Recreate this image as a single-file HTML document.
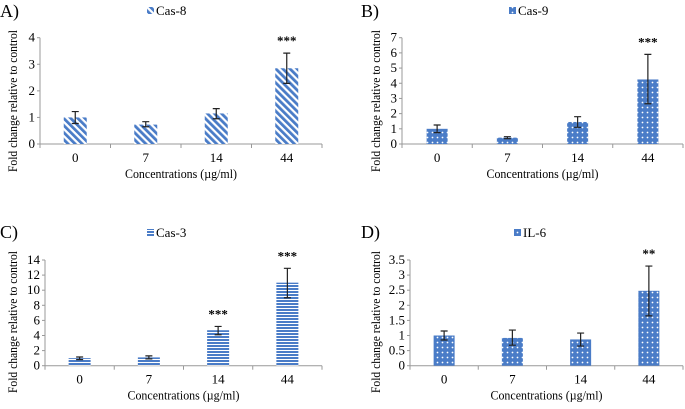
<!DOCTYPE html>
<html><head><meta charset="utf-8"><style>
body{margin:0;background:#fff}
svg, svg text{font-family:"Liberation Serif","DejaVu Serif","Times New Roman",serif}
</style></head><body>
<svg id="fig" width="685" height="404" viewBox="0 0 685 404" xmlns="http://www.w3.org/2000/svg">
<defs>
<pattern id="pDiag" patternUnits="userSpaceOnUse" width="5" height="5" patternTransform="rotate(-45)">
<rect width="5" height="5" fill="#fff"/><rect width="2.8" height="5" fill="#4a7cc7"/></pattern>
<pattern id="pDot" patternUnits="userSpaceOnUse" width="5" height="5">
<rect width="5" height="5" fill="#4a7cc7"/><circle cx="2.5" cy="2.5" r="0.9" fill="#fff"/></pattern>
<pattern id="pHor" patternUnits="userSpaceOnUse" width="4" height="3">
<rect width="4" height="3" fill="#4a7cc7"/><rect y="2" width="4" height="1" fill="#fff"/></pattern>
</defs>
</svg>
<script>
const categories = ["0","7","14","44"];
const cas8Values = [1.0, 0.73, 1.15, 2.85];
const cas8Low = [0.77, 0.65, 0.95, 2.28];
const cas8High = [1.22, 0.84, 1.33, 3.42];
const cas8Stars = ["", "", "", "***"];
const cas8Ticks = ["0","1","2","3","4"];
const cas9Values = [1.0, 0.42, 1.45, 4.25];
const cas9Low = [0.75, 0.35, 1.1, 2.65];
const cas9High = [1.25, 0.48, 1.8, 5.9];
const cas9Stars = ["", "", "", "***"];
const cas9Ticks = ["0","1","2","3","4","5","6","7"];
const cas3Values = [1.0, 1.1, 4.7, 11.0];
const cas3Low = [0.8, 0.9, 4.1, 9.0];
const cas3High = [1.15, 1.3, 5.2, 12.9];
const cas3Stars = ["", "", "***", "***"];
const cas3Ticks = ["0","2","4","6","8","10","12","14"];
const il6Values = [1.0, 0.92, 0.87, 2.48];
const il6Low = [0.85, 0.68, 0.65, 1.65];
const il6High = [1.15, 1.18, 1.08, 3.3];
const il6Stars = ["", "", "", "**"];
const il6Ticks = ["0","0.5","1","1.5","2","2.5","3","3.5"];

const NS="http://www.w3.org/2000/svg";
const svg=document.getElementById('fig');
function mk(tag,attrs,parent,text){const e=document.createElementNS(NS,tag);for(const k in attrs)e.setAttribute(k,attrs[k]);if(text!==undefined){e.textContent=text;}(parent||svg).appendChild(e);return e;}

function panel(o){
  const g=mk('g',{});
  
  
  const max=parseFloat(o.ticks[o.ticks.length-1]);
  const y=v=>o.y0-(v/max)*(o.y0-o.yTop);
  const step=(o.x1-o.x0)/o.cats.length;
  const x=i=>o.x0+step*(i+0.5);
  const pl=mk('text',{x:o.lx,y:o.ly,'font-size':18,fill:'#000'},g,o.label);
  
  
  const lg=mk('g',{},g);
  
  
  mk('rect',{x:o.legX,y:o.legY-8,width:7,height:7,fill:o.fill},lg);
  mk('text',{x:o.legX+9,y:o.legY,'font-size':13},lg,o.name);
  mk('line',{x1:o.x0,y1:o.yTop,x2:o.x0,y2:o.y0,stroke:'#999','stroke-width':1},g);
  o.ticks.forEach(t=>{
    const v=parseFloat(t);const ty=y(v);
    mk('line',{x1:o.x0-3,y1:ty,x2:o.x0,y2:ty,stroke:'#999'},g);
    const tl=mk('text',{x:o.x0-5,y:ty+4,'font-size':13,'text-anchor':'end'},g,t);
    
    
  });
  mk('line',{x1:o.x0,y1:o.y0,x2:o.x1,y2:o.y0,stroke:'#999'},g);
  for(let i=0;i<=o.cats.length;i++) mk('line',{x1:o.x0+step*i,y1:o.y0,x2:o.x0+step*i,y2:o.y0+4,stroke:'#999'},g);
  o.cats.forEach((c,i)=>{
    const xl=mk('text',{x:x(i),y:o.y0+18,'font-size':13,'text-anchor':'middle'},g,c);
    
    
    const b=mk('rect',{x:x(i)-o.bw/2,y:y(o.vals[i]),width:o.bw,height:o.y0-y(o.vals[i]),fill:o.fill},g);
    
    
    const e=mk('path',{d:`M${x(i)-3.5},${y(o.hi[i])}H${x(i)+3.5}M${x(i)},${y(o.hi[i])}V${y(o.lo[i])}M${x(i)-3.5},${y(o.lo[i])}H${x(i)+3.5}`,stroke:'#222','stroke-width':1.2,fill:'none'},g);
    
    
    if(o.stars[i]){
      const s=mk('text',{x:x(i),y:y(o.hi[i])-8,'font-size':13,'text-anchor':'middle','font-weight':'bold'},g,o.stars[i]);
      
      
    }
  });
  const xt=mk('text',{x:(o.x0+o.x1)/2,y:o.y0+34,'font-size':13,'text-anchor':'middle',textLength:112,lengthAdjust:'spacingAndGlyphs'},g,'Concentrations (µg/ml)');
  
  
  const ty=mk('text',{x:0,y:0,'font-size':13,'text-anchor':'middle',textLength:142,lengthAdjust:'spacingAndGlyphs',transform:`translate(${o.ytx},${o.yty}) rotate(-90)`},g,'Fold change relative to control');
  
  
}

panel({id:'cas8',label:'A)',lx:0,ly:17,name:'Cas-8',legX:147,legY:15,fill:'url(#pDiag)',x0:40,x1:322,y0:144,yTop:37.7,bw:23,ticks:cas8Ticks,cats:categories,vals:cas8Values,lo:cas8Low,hi:cas8High,stars:cas8Stars,ytx:17,yty:101});
panel({id:'cas9',label:'B)',lx:361,ly:17,name:'Cas-9',legX:509,legY:15,fill:'url(#pDot)',x0:402,x1:683,y0:144,yTop:37.7,bw:21,ticks:cas9Ticks,cats:categories,vals:cas9Values,lo:cas9Low,hi:cas9High,stars:cas9Stars,ytx:380,yty:101});
panel({id:'cas3',label:'C)',lx:0,ly:238,name:'Cas-3',legX:147,legY:237,fill:'url(#pHor)',x0:45,x1:322,y0:365.7,yTop:260,bw:22,ticks:cas3Ticks,cats:categories,vals:cas3Values,lo:cas3Low,hi:cas3High,stars:cas3Stars,ytx:17,yty:322});
panel({id:'il6',label:'D)',lx:361,ly:238,name:'IL-6',legX:514,legY:237,fill:'url(#pDot)',x0:410,x1:683,y0:365.7,yTop:260,bw:21,ticks:il6Ticks,cats:categories,vals:il6Values,lo:il6Low,hi:il6High,stars:il6Stars,ytx:380,yty:322});
</script>
</body></html>
